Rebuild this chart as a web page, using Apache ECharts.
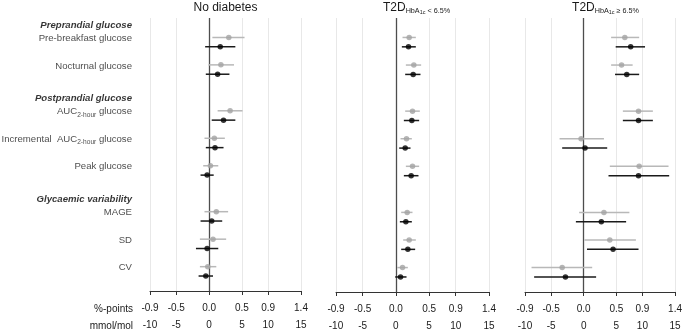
<!DOCTYPE html>
<html lang="en">
<head>
    <meta charset="utf-8">
    <title>Forest plot</title>
    <script src="https://cdn.jsdelivr.net/npm/echarts@6/dist/echarts.min.js"></script>
</head>
<body style="margin:0;">
<div id="main" style="width: 685px; height: 335px;"></div>
<script type="text/javascript">
    // tick labels (x axis is in %-points, second row is mmol/mol)
    const pctTicks = [-0.9, -0.5, 0.0, 0.5, 0.9, 1.4];
    const pctLabels = ['-0.9', '-0.5', '0.0', '0.5', '0.9', '1.4'];
    const mmolLabels = ['-10', '-5', '0', '5', '10', '15'];

    const panelTitles = [
        'No diabetes',
        'T2D{s|HbA}{ss|1c}{s| < 6.5%}',
        'T2D{s|HbA}{ss|1c}{s| ≥ 6.5%}'
    ];

    const groupNames = ['Preprandial glucose', 'Postprandial glucose', 'Glycaemic variability'];
    const groupSizes = [2, 3, 3];
    const outcomes = [
        'Pre-breakfast glucose',
        'Nocturnal glucose',
        'AUC{sub|2-hour} glucose',
        'Incremental  AUC{sub|2-hour} glucose',
        'Peak glucose',
        'MAGE',
        'SD',
        'CV'
    ];

    // [estimate, lower, upper] per outcome; grey = upper estimate, black = lower estimate
    const noDiabetesGrey = [[0.30, 0.05, 0.54], [0.18, -0.01, 0.38], [0.32, 0.13, 0.51], [0.08, -0.07, 0.24],
        [0.02, -0.09, 0.14], [0.11, -0.07, 0.29], [0.06, -0.14, 0.26], [-0.02, -0.14, 0.11]];
    const noDiabetesBlack = [[0.17, -0.06, 0.40], [0.13, -0.05, 0.31], [0.22, 0.04, 0.40], [0.09, -0.05, 0.22],
        [-0.03, -0.13, 0.07], [0.04, -0.13, 0.20], [-0.03, -0.20, 0.14], [-0.05, -0.16, 0.06]];
    const t2dLowGrey = [[0.20, 0.10, 0.30], [0.27, 0.15, 0.38], [0.25, 0.14, 0.36], [0.16, 0.07, 0.24],
        [0.25, 0.15, 0.35], [0.17, 0.08, 0.25], [0.20, 0.11, 0.30], [0.10, 0.02, 0.18]];
    const t2dLowBlack = [[0.19, 0.09, 0.30], [0.26, 0.14, 0.37], [0.24, 0.12, 0.35], [0.14, 0.05, 0.22],
        [0.23, 0.12, 0.34], [0.15, 0.06, 0.24], [0.18, 0.08, 0.29], [0.07, -0.01, 0.16]];
    const t2dHighGrey = [[0.63, 0.42, 0.85], [0.58, 0.42, 0.75], [0.84, 0.60, 1.06], [-0.04, -0.37, 0.31],
        [0.85, 0.40, 1.30], [0.31, -0.07, 0.70], [0.40, 0.01, 0.80], [-0.33, -0.80, 0.13]];
    const t2dHighBlack = [[0.72, 0.49, 0.94], [0.66, 0.48, 0.85], [0.84, 0.60, 1.06], [0.02, -0.33, 0.36],
        [0.84, 0.38, 1.31], [0.27, -0.12, 0.65], [0.45, 0.05, 0.84], [-0.28, -0.76, 0.19]];

    const panelData = [
        [noDiabetesGrey, noDiabetesBlack],
        [t2dLowGrey, t2dLowBlack],
        [t2dHighGrey, t2dHighBlack]
    ];

    // vertical layout in row units
    const rowY = [];
    const headerY = [];
    let pos = 0.225;
    groupSizes.forEach(function (n) {
        headerY.push(pos);
        pos += 0.48;
        for (let i = 0; i < n; i++) {
            rowY.push(pos);
            pos += 1;
        }
        pos += 0.19;
    });
    const pairGap = 0.34;
    const yMax = 9.93;

    const FONT = 'Liberation Sans, Arial, sans-serif';
    const grids = [
        {left: 150, width: 151, top: 18, bottom: 39},
        {left: 336, width: 153, top: 18, bottom: 39},
        {left: 525, width: 153, top: 18, bottom: 39}
    ];
    const styles = [
        {point: '#a3a3a3', bar: '#b8b8b8'},
        {point: '#000000', bar: '#1a1a1a'}
    ];

    let myChart = echarts.init(document.getElementById('main'), null, {renderer: 'canvas'});

    const titles = panelTitles.map(function (t, i) {
        return {
            text: t,
            left: grids[i].left + grids[i].width / 2 + (i === 0 ? 0 : 4),
            textAlign: 'center',
            top: 0,
            padding: 0,
            textStyle: {
                fontFamily: FONT, fontSize: 12, fontWeight: 'normal', color: '#1a1a1a', lineHeight: 15,
                rich: {
                    s: {fontFamily: FONT, fontSize: 7.2, color: '#1a1a1a', verticalAlign: 'bottom', lineHeight: 10},
                    ss: {fontFamily: FONT, fontSize: 5.5, color: '#1a1a1a', verticalAlign: 'bottom', lineHeight: 6}
                }
            }
        };
    });

    const xAxes = grids.map(function (g, i) {
        return {
            type: 'value', gridIndex: i, min: -0.9, max: 1.4,
            name: i === 0 ? '%-points\nmmol/mol' : '',
            nameLocation: 'start',
            nameGap: 17,
            nameTextStyle: {
                fontFamily: FONT, fontSize: 10, color: '#1a1a1a', lineHeight: 17,
                align: 'right', verticalAlign: 'top', padding: [10, 0, 0, 0]
            },
            axisLine: {show: true, onZero: false, lineStyle: {color: '#333', width: 1}},
            axisTick: {show: true, customValues: pctTicks, length: 4, lineStyle: {color: '#333'}},
            axisLabel: {
                customValues: pctTicks, margin: 9, fontFamily: FONT, fontSize: 10, color: '#1a1a1a', lineHeight: 17,
                formatter: function (v) {
                    let k = pctTicks.findIndex(function (t) { return Math.abs(t - v) < 1e-9; });
                    return pctLabels[k] + '\n' + mmolLabels[k];
                }
            },
            splitLine: {show: true, lineStyle: {color: '#e8e8e8', width: 1}}
        };
    });

    const yAxes = grids.map(function (g, i) {
        return {type: 'value', gridIndex: i, min: 0, max: yMax, inverse: true, show: false};
    });

    const series = [];
    panelData.forEach(function (pair, p) {
        // zero reference line
        series.push({
            type: 'scatter', xAxisIndex: p, yAxisIndex: p, data: [], silent: true,
            markLine: {
                silent: true, symbol: 'none', label: {show: false}, z: 3,
                lineStyle: {color: '#4d4d4d', width: 1.3, type: 'solid'},
                data: [{xAxis: 0}]
            }
        });
        pair.forEach(function (vals, s) {
            const off = s === 0 ? 0 : pairGap;
            series.push({
                type: 'custom', xAxisIndex: p, yAxisIndex: p, silent: true, z: 4,
                encode: {x: [1, 2], y: 0},
                data: vals.map(function (d, k) { return [rowY[k] + off, d[1], d[2]]; }),
                renderItem: function (params, api) {
                    const a = api.coord([api.value(1), api.value(0)]);
                    const b = api.coord([api.value(2), api.value(0)]);
                    return {
                        type: 'line',
                        shape: {x1: a[0], y1: a[1], x2: b[0], y2: b[1]},
                        style: {stroke: styles[s].bar, lineWidth: 1.5}
                    };
                }
            });
            series.push({
                type: 'scatter', xAxisIndex: p, yAxisIndex: p, silent: true, z: 5,
                symbol: 'circle', symbolSize: 5.5,
                itemStyle: {color: styles[s].point},
                data: vals.map(function (d, k) { return [d[0], rowY[k] + off]; })
            });
        });
    });

    // row labels on the left of the first panel
    const labelData = [];
    groupNames.forEach(function (g, i) {
        labelData.push({
            value: [-0.9, headerY[i]], name: g,
            label: {fontWeight: 'bold', fontStyle: 'italic', color: '#000'}
        });
    });
    outcomes.forEach(function (o, k) {
        labelData.push({value: [-0.9, rowY[k]], name: o});
    });
    series.push({
        type: 'scatter', xAxisIndex: 0, yAxisIndex: 0, silent: true,
        symbol: 'circle', symbolSize: 0,
        data: labelData,
        label: {
            show: true, position: 'left', distance: 18, offset: [0, 1],
            fontFamily: FONT, fontSize: 9.6, color: '#1a1a1a', lineHeight: 13,
            formatter: function (p) { return p.name; },
            rich: {
                sub: {fontFamily: FONT, fontSize: 6.6, color: '#1a1a1a', verticalAlign: 'bottom', lineHeight: 9}
            }
        }
    });

    const option = {
        animation: false,
        backgroundColor: '#ffffff',
        title: titles,
        grid: grids,
        xAxis: xAxes,
        yAxis: yAxes,
        series: series
    };
    myChart.setOption(option);
</script>
</body>
</html>
